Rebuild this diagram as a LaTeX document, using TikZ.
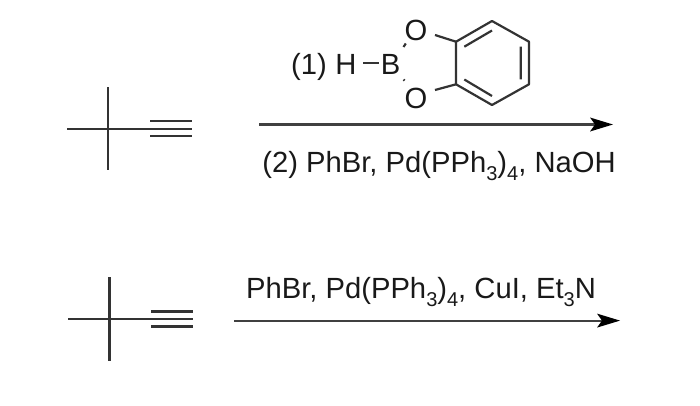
\documentclass[tikz,border=0pt]{standalone}
\usepackage{fontspec}
\setmainfont{Liberation Sans}
\newcommand{\sbs}[1]{\raisebox{-8pt}{\fontsize{20}{20}\selectfont #1}}
\tikzset{
  bond/.style={line width=2.2pt,draw=black!80},
  rarrow/.style={line width=2.2pt,draw=black!75},
  tip/.style={fill=black,draw=none},
  lab/.style={inner sep=0pt,text=black!90,font=\fontsize{29.2}{32}\selectfont,anchor=base}
}
\begin{document}
\begin{tikzpicture}[x=1pt,y=-1pt]
\useasboundingbox (0,0) rectangle (700,405);
% top alkyne
\coordinate (qa) at (108,128.7);
\coordinate (la) at (67,128.7);
\coordinate (ua) at (108,87);
\coordinate (da) at (108,170);
\coordinate (ca) at (150,128.7);
\coordinate (ea) at (192,128.7);
\draw[bond] (la) -- (qa) (ua) -- (da) (qa) -- (ca) -- (ea);
\draw[bond] (150,121) -- (192,121) (150,136.2) -- (192,136.2);
% bottom alkyne
\coordinate (qb) at (109.5,319);
\coordinate (lb) at (68,319);
\coordinate (ub) at (109.5,277);
\coordinate (db) at (109.5,361);
\coordinate (cb) at (151,319);
\coordinate (eb) at (193,319);
\draw[bond] (lb) -- (qb) (ub) -- (db) (qb) -- (cb) -- (eb);
\draw[bond] (151,311.5) -- (193,311.5) (151,326.5) -- (193,326.5);
% benzene ring
\coordinate (r1) at (456,41.7);
\coordinate (r2) at (492,21);
\coordinate (r3) at (529,41.7);
\coordinate (r4) at (529,84.3);
\coordinate (r5) at (492,105);
\coordinate (r6) at (456,84.3);
\draw[bond,line join=round] (r1) -- (r2) -- (r3) -- (r4) -- (r5) -- (r6) -- cycle;
\draw[bond] (464.3,46.7) -- (492,30.5) (464.3,79.5) -- (492,96) (520.7,46.7) -- (520.7,79.3);
% reagent labels
\node[lab] (one) at (309,74) {(1)};
\node[lab] (h) at (346,74) {H};
\node[lab] (b) at (390.5,74) {B};
\node[lab] (ot) at (416,40.5) {O};
\node[lab] (ob) at (416,108.5) {O};
\draw[bond] (363.3,63) -- (379.3,63);
\draw[bond] (r1) -- (435,35) (r6) -- (435,90);
\draw[bond] (403.5,47) -- (405.8,43.5) (403.6,79.6) -- (404.6,80.6);
% arrows
\coordinate (a1s) at (259,124.5);
\coordinate (a1e) at (613,124.5);
\coordinate (a2s) at (234,320.6);
\coordinate (a2e) at (620,320.6);
\draw[rarrow] (a1s) -- (600,124.5);
\fill[tip] (a1e) -- (590,117.5) -- (595,124.5) -- (590,131.5) -- cycle;
\draw[rarrow] (a2s) -- (607,320.6);
\fill[tip] (a2e) -- (597,313.6) -- (602,320.6) -- (597,327.6) -- cycle;
\node[lab] (t1) at (439,172) {(2) PhBr, Pd(PPh\sbs{3})\sbs{4}, NaOH};
\node[lab] (t2) at (421,298) {PhBr, Pd(PPh\sbs{3})\sbs{4}, CuI, Et\sbs{3}N};
\end{tikzpicture}
\end{document}
